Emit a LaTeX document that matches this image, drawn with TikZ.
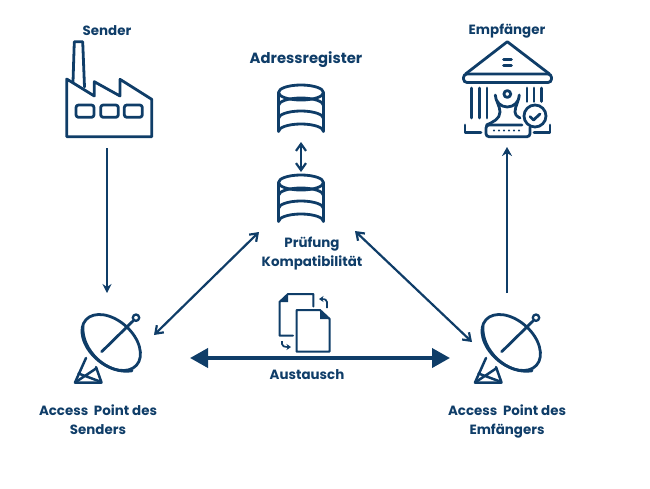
\documentclass[tikz,border=0pt]{standalone}
\usepackage{fontspec}
\setmainfont{Poppins}
\usetikzlibrary{arrows.meta}
\definecolor{navy}{HTML}{0F3D68}
\tikzset{
  icon/.style={draw=navy,line width=2.8pt,line join=round,line cap=round},
  thin icon/.style={draw=navy,line width=2pt,line join=round,line cap=round},
  label/.style={text=navy,font=\bfseries\fontsize{13.4}{19}\selectfont,align=center,inner sep=0pt},
  link/.style={draw=navy,line width=2.2pt},
  openhead/.style={{Straight Barb[length=7pt,width=10pt,line width=2.2pt]}-{Straight Barb[length=7pt,width=10pt,line width=2.2pt]}},
}
\newcommand{\dbicon}[1]{%
  \begin{scope}[shift={(0,#1)}]
    \draw[icon] (278.5,92.5) arc[start angle=180,end angle=-180,x radius=22.5,y radius=7.5];
    \draw[icon] (278.5,92.5) -- (278.5,131.5) arc[start angle=180,end angle=360,x radius=22.5,y radius=7.5] -- (323.5,92.5);
    \draw[icon] (278.5,105.5) arc[start angle=180,end angle=360,x radius=22.5,y radius=7.5];
    \draw[icon] (278.5,118.5) arc[start angle=180,end angle=360,x radius=22.5,y radius=7.5];
  \end{scope}}
\newcommand{\dishicon}[1]{%
  \begin{scope}[shift={(#1,0)}]
    \draw[icon] (111.2,342.5) ellipse[x radius=34,y radius=22,rotate=-42];
    \draw[icon] (83,326) .. controls (81,350) and (107,375) .. (132,370.8);
    \draw[icon] (101.7,351.7) -- (133.5,320.5);
    \draw[icon,line width=2.3pt] (136,317.7) circle[radius=3.2];
    \draw[thin icon,line width=2.5pt] (86,358) -- (75,382.5) -- (101.5,382.5) -- (96,367);
    \draw[thin icon,line width=2.5pt] (78.5,373.5) -- (100,381.5) (75,382.5) -- (96,368.5);
  \end{scope}}
\begin{document}
\begin{tikzpicture}[x=1pt,y=-1pt]
\useasboundingbox (0,0) rectangle (650,488);
% labels
\node[label] (sender) at (107,31) {Sender};
\node[label,font=\bfseries\fontsize{14.8}{19}\selectfont] (register) at (306,59.5) {Adressregister};
\node[label] (empf) at (507,31) {Empfänger};
\node[label] (pruef) at (312,253.5) {Prüfung\\Kompatibilität};
\node[label] (ausender) at (98,419.5) {Access\ \ Point des\\Senders};
\node[label] (auempf) at (507,421) {Access\ \ Point des\\Emfängers};
\node[label] (aus) at (307,375) {Austausch};
% factory
\draw[icon] (66.7,79) -- (94.3,96) -- (94.3,81.7) -- (120,96) -- (120,79.3) -- (151.7,99.3) -- (151.7,136.7) -- (66.7,136.7) -- cycle;
\draw[icon] (73,82) -- (74.3,41.7) -- (82.7,41.7) -- (84.5,87);
\foreach \a/\b in {76/94,100.7/118.3,124.3/142.3}
  \draw[icon,rounded corners=2.5pt] (\a,105) rectangle (\b,117.3);
% bank
\draw[icon] (465.5,74) -- (507.3,41.7) -- (549.5,74);
\draw[icon,rounded corners=3.5pt] (463.5,74) rectangle (551.5,82.5);
\draw[icon] (503.5,59.5) -- (511.5,59.5) (503.5,65.5) -- (511.5,65.5);
\foreach \x in {471.7,479.5,487}
  \draw[icon] (\x,88) -- (\x,118);
\foreach \x in {527,534,541.7}
  \draw[icon] (\x,88) -- (\x,101.5);
\draw[icon,fill=white] (486.5,125) .. controls (493,122) and (500,119) .. (500,112) .. controls (500,106) and (495.3,100) .. (495.3,95) arc[start angle=180,end angle=0,radius=12] .. controls (519.3,100) and (515,106) .. (515,112) .. controls (515,114) and (516,116) .. (520,118);
\draw[icon] (507.3,94) circle[radius=3.4];
\draw[icon,rounded corners=3pt] (522,125) -- (486,125) -- (486,136.7) -- (530,136.7) -- (530,127.5);
\draw[icon,fill=white] (535,116) circle[radius=11];
\draw[icon] (530,116.5) -- (533.5,120) -- (540,114);
\foreach \x in {494,499,504,509,514,519}
  \fill[navy] (\x,130.5) circle[radius=1.2];
\draw[icon] (465,125) -- (465,132.7) -- (481,132.7);
\draw[icon] (550,125) -- (550,132.7) -- (534,132.7);
% db
\dbicon{0}
\dbicon{90}
\coordinate (db1) at (301,142);
\coordinate (db2) at (301,172);
\draw[link,openhead] (db1) -- (db2);
% dishes
\dishicon{0}
\dishicon{400}
% documents
\draw[thin icon] (293,335.5) -- (279.5,335.5) -- (279.5,302) -- (288,294) -- (313.3,294) -- (313.3,306.5);
\fill[navy] (279.5,302) -- (288,294) -- (288,302) -- cycle;
\draw[thin icon] (296.5,310) -- (320,310) -- (329.7,319) -- (329.7,351.5) -- (296.5,351.5) -- cycle;
\fill[navy] (320,310) -- (329.7,319) -- (320,319) -- cycle;
\draw[navy,line width=1.7pt,-{Stealth[length=4.5pt,width=6pt]}] (327,308) -- (327,302) .. controls (327,300) and (325,299) .. (319,299);
\draw[navy,line width=1.7pt,-{Stealth[length=4.5pt,width=6pt]}] (282,341) -- (282,344) .. controls (282,346) and (284,347) .. (291,347);
% connectors
\coordinate (a1) at (107,148); \coordinate (a2) at (107,293);
\draw[navy,line width=2.2pt,-{Stealth[length=9pt,width=9pt]}] (a1) -- (a2);
\coordinate (b1) at (507,293); \coordinate (b2) at (507,147);
\draw[navy,line width=2.2pt,-{Stealth[length=9pt,width=10pt]}] (b1) -- (b2);
\coordinate (c1) at (154,335); \coordinate (c2) at (259,232);
\draw[link,openhead] (c1) -- (c2);
\coordinate (d1) at (472,342); \coordinate (d2) at (355,231);
\draw[link,openhead] (d1) -- (d2);
\coordinate (e1) at (190,358); \coordinate (e2) at (450,358);
\draw[navy,line width=3.8pt,{Triangle[length=18pt,width=19pt]}-{Triangle[length=18pt,width=19pt]}] (e1) -- (e2);
\end{tikzpicture}
\end{document}
